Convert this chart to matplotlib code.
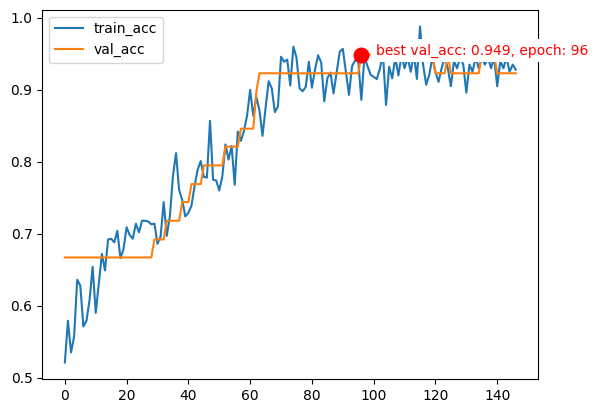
import matplotlib
matplotlib.use("Agg")
import matplotlib.pyplot as plt

# 每个epoch的准确率（从图上读出来的）
train_acc = [
    0.521, 0.579, 0.535, 0.557, 0.636, 0.628, 0.571, 0.579, 0.608, 0.654,
    0.590, 0.631, 0.672, 0.649, 0.692, 0.693, 0.688, 0.704, 0.666, 0.679,
    0.709, 0.698, 0.693, 0.714, 0.702, 0.718, 0.718, 0.717, 0.713, 0.714,
    0.686, 0.696, 0.744, 0.697, 0.724, 0.780, 0.812, 0.761, 0.747, 0.724,
    0.729, 0.739, 0.766, 0.789, 0.801, 0.779, 0.778, 0.857, 0.775, 0.774,
    0.760, 0.780, 0.824, 0.803, 0.822, 0.768, 0.842, 0.829, 0.843, 0.864,
    0.900, 0.864, 0.890, 0.872, 0.836, 0.875, 0.912, 0.902, 0.869, 0.877,
    0.946, 0.939, 0.942, 0.906, 0.960, 0.945, 0.902, 0.898, 0.904, 0.939,
    0.903, 0.928, 0.948, 0.938, 0.884, 0.916, 0.924, 0.895, 0.924, 0.953,
    0.957, 0.925, 0.893, 0.933, 0.941, 0.940, 0.886, 0.946, 0.933, 0.921,
    0.918, 0.915, 0.929, 0.950, 0.879, 0.932, 0.916, 0.945, 0.920, 0.948,
    0.930, 0.945, 0.925, 0.950, 0.915, 0.988, 0.935, 0.907, 0.921, 0.945,
    0.925, 0.911, 0.930, 0.945, 0.930, 0.905, 0.940, 0.930, 0.945, 0.935,
    0.896, 0.935, 0.925, 0.945, 0.930, 0.945, 0.935, 0.945, 0.930, 0.945,
    0.905, 0.940, 0.930, 0.945, 0.925, 0.935, 0.928,
]

val_acc = (
    [0.667] * 29 + [0.692] * 4 + [0.718] * 5 + [0.744] * 3 + [0.769] * 4
    + [0.795] * 7 + [0.821] * 5 + [0.846] * 5 + [0.897] + [0.923] * 33
    + [0.949] * 24 + [0.923] * 4 + [0.949] + [0.923] * 10 + [0.949] * 5
    + [0.923] * 7
)

best_epoch = 96
best_acc = 0.949

epochs = list(range(len(train_acc)))

fig = plt.figure(figsize=(5.97, 4.13), dpi=100)
ax = fig.add_axes([42.3 / 597, (413 - 379.3) / 413, 496 / 597, 369.6 / 413])

ax.plot(epochs, train_acc, label="train_acc")
ax.plot(list(range(len(val_acc))), val_acc, label="val_acc")

ax.scatter(best_epoch, best_acc, color="red", s=110, zorder=3)
ax.text(best_epoch + 4.6, best_acc, f"best val_acc: {best_acc}, epoch: {best_epoch}",
        color="red", fontsize=10, va="baseline", zorder=4,
        bbox=dict(facecolor="white", edgecolor="none", pad=3))

ax.legend(loc="upper left")

fig.savefig("out.png", dpi=100)
